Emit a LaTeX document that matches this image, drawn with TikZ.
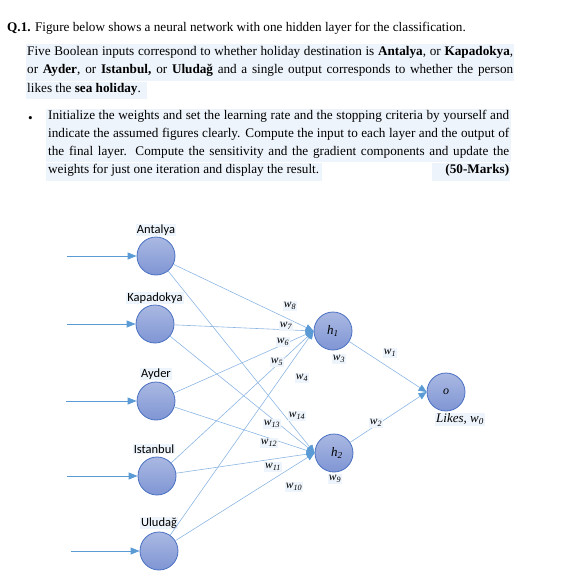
\documentclass[tikz,border=0pt]{standalone}
\usepackage{fontspec}
\setmainfont{Liberation Serif}
\newfontfamily\labelfont{Carlito}
\usetikzlibrary{arrows.meta,positioning}

\definecolor{nodetop}{HTML}{AAB8E2}
\definecolor{nodebot}{HTML}{7F96D4}
\definecolor{nodeline}{HTML}{4A70C2}
\definecolor{edgeblue}{HTML}{8DB6E3}
\definecolor{inblue}{HTML}{5B9BD5}
\definecolor{lineshade}{HTML}{EEF4FB}
\newcommand\wt[1]{w\textsubscript{#1}}

\begin{document}
\begin{tikzpicture}[x=1pt,y=-1pt]
	\tikzstyle{neuron}=[circle, minimum size=38pt, inner sep=0pt, draw=nodeline, line width=0.8pt, top color=nodetop, bottom color=nodebot]
	\tikzstyle{placename}=[font=\labelfont\fontsize{12.5}{14}\selectfont, fill=lineshade, inner sep=1pt]
	\tikzstyle{weight}=[font=\itshape\fontsize{11.5}{13}\selectfont, fill=lineshade, inner sep=1pt]
	\tikzstyle{link}=[draw=edgeblue, line width=0.6pt, -{Triangle[length=8pt, width=7pt, color=inblue]}]
	\tikzstyle{inarrow}=[draw=inblue, line width=0.8pt, -{Triangle[length=9pt, width=7pt]}]
	\useasboundingbox (0,0) rectangle (565,576);
	% shaded text lines
	\fill[lineshade] (26,44) rectangle (514,81);
	\fill[lineshade] (26,82) rectangle (147,99);
	\fill[lineshade] (46,109) rectangle (511,162);
	\fill[lineshade] (46,163) rectangle (322,181);
	\fill[lineshade] (432,163) rectangle (510,181);
	% question text
	\node[anchor=base west, inner sep=0, font=\fontsize{13.2}{15}\selectfont] (question) at (7,31)
		{\textbf{Q.1.} Figure below shows a neural network with one hidden layer for the classification.};
	\node[anchor=north west, inner sep=0, text width=486pt, align=justify, font=\fontsize{13.2}{18.5}\selectfont] (intro) at (27,46)
		{Five Boolean inputs correspond to whether holiday destination is \textbf{Antalya}, or \textbf{Kapadokya},\linebreak
		or \textbf{Ayder}, or \textbf{Istanbul,} or \textbf{Uludağ} and a single output corresponds to whether the person\linebreak
		likes the \textbf{sea holiday}.};
	\node[anchor=base west, inner sep=0, font=\fontsize{13.2}{15}\selectfont] (bullet) at (28,122) {•};
	\node[anchor=north west, inner sep=0, text width=461pt, align=justify, font=\fontsize{13.2}{18}\selectfont] (task) at (48,110)
		{\parfillskip=0pt Initialize the weights and set the learning rate and the stopping criteria by yourself and\linebreak
		indicate the assumed figures clearly. Compute the input to each layer and the output of\linebreak
		the final layer. Compute the sensitivity and the gradient components and update the\linebreak
		weights for just one iteration and display the result.\hfill\textbf{(50-Marks)}};
	% input layer
	\node[neuron] (antalya) at (156,256) {};
	\node[neuron] (kapadokya) at (155,324) {};
	\node[neuron] (ayder) at (156,401) {};
	\node[neuron] (istanbul) at (157,476) {};
	\node[neuron] (uludag) at (159,551) {};
	\node[placename, above=0pt of antalya] (antalya-name) {Antalya};
	\node[placename, above=0pt of kapadokya] (kapadokya-name) {Kapadokya};
	\node[placename, above=1pt of ayder] (ayder-name) {Ayder};
	\node[placename, above=2pt of istanbul, xshift=-3pt] (istanbul-name) {Istanbul};
	\node[placename, above=2pt of uludag] (uludag-name) {Uludağ};
	\coordinate (antalya-in) at (67,256);
	\coordinate (kapadokya-in) at (67,324);
	\coordinate (ayder-in) at (66,401);
	\coordinate (istanbul-in) at (67,476);
	\coordinate (uludag-in) at (71,551);
	% hidden and output layer
	\node[neuron] (h1) at (333,331) {\fontsize{13}{14}\selectfont\itshape h\textsubscript{1}};
	\node[neuron] (h2) at (334,453) {\fontsize{13}{14}\selectfont\hspace{6pt}\itshape h\textsubscript{2}};
	\node[neuron] (o) at (446,392) {\fontsize{12}{14}\selectfont\itshape o};
	\node[weight, font=\itshape\fontsize{13}{14}\selectfont, below=1pt of o, xshift=14pt] (likes) {Likes, \wt{0}};
	% connections
	\foreach \s in {antalya,kapadokya,ayder,istanbul,uludag}{
		\draw[inarrow] (\s-in) -- (\s);
		\draw[link] (\s) -- (h1.west);
		\draw[link] (\s) -- (h2.west);
	}
	\draw[link] (h1) -- (o.west);
	\draw[link] (h2) -- (o.west);
	% weights
	\node[weight] (w8) at (290,306) {\wt{8}};
	\node[weight] (w7) at (286,326) {\wt{7}};
	\node[weight] (w6) at (283,342) {\wt{6}};
	\node[weight] (w5) at (277,362) {\wt{5}};
	\node[weight] (w4) at (302,378) {\wt{4}};
	\node[weight] (w3) at (339,359) {\wt{3}};
	\node[weight] (w1) at (390,353) {\wt{1}};
	\node[weight] (w14) at (297,416) {\wt{14}};
	\node[weight] (w13) at (272,424) {\wt{13}};
	\node[weight] (w12) at (269,443) {\wt{12}};
	\node[weight] (w11) at (273,467) {\wt{11}};
	\node[weight] (w10) at (294,487) {\wt{10}};
	\node[weight] (w9) at (335,479) {\wt{9}};
	\node[weight] (w2) at (376,423) {\wt{2}};
\end{tikzpicture}
\end{document}
